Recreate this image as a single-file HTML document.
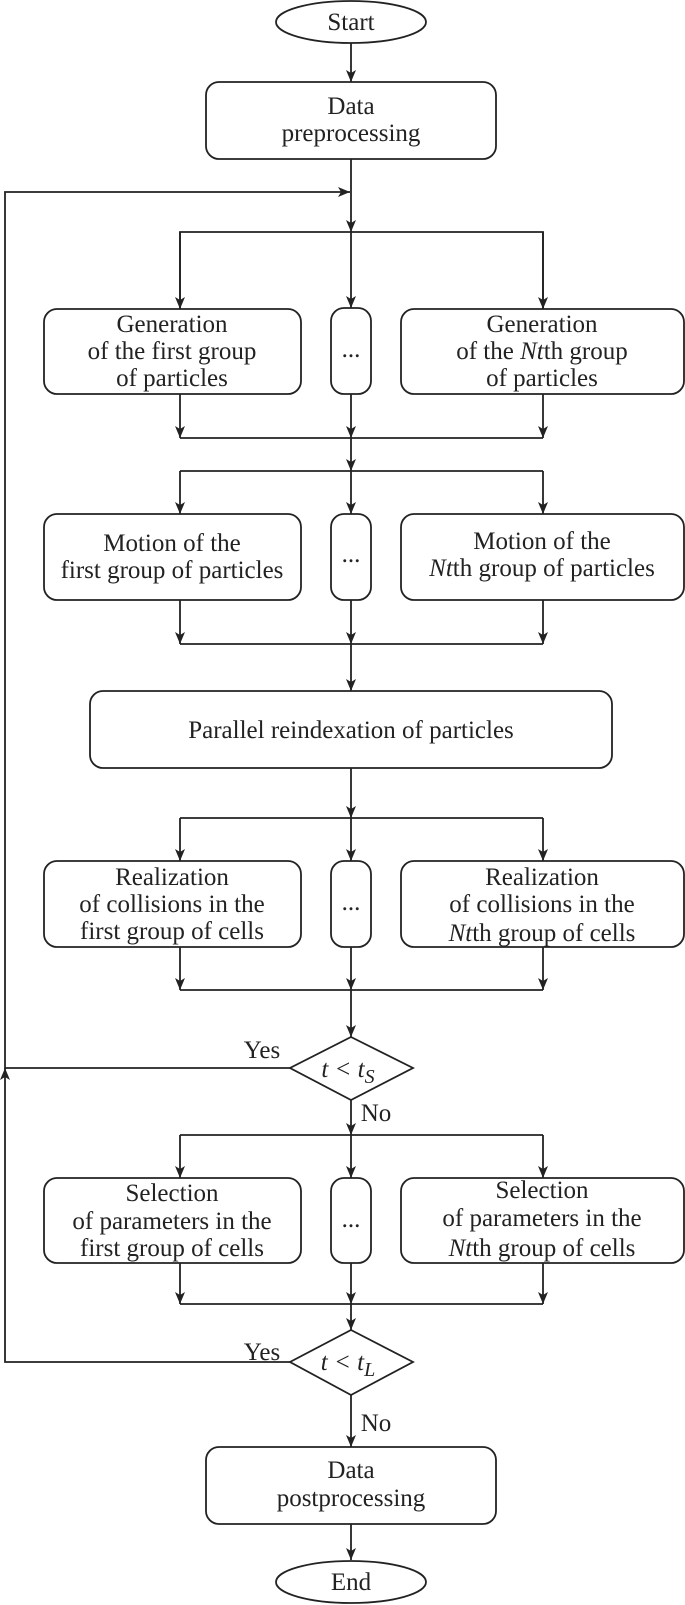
<!DOCTYPE html>
<html><head><meta charset="utf-8"><style>
html,body{margin:0;padding:0;background:#fff}
svg{display:block}
text{font-family:"Liberation Serif",serif;font-size:25px;fill:#222;text-anchor:middle}
.i{font-style:italic}
</style></head><body>
<svg width="685" height="1605" viewBox="0 0 685 1605" xmlns="http://www.w3.org/2000/svg">
<defs>
<marker id="a" viewBox="0 0 12 10" refX="12" refY="5" markerWidth="12" markerHeight="10" markerUnits="userSpaceOnUse" orient="auto">
<path d="M0,0 L12,5 L0,10 L3,5 z" fill="#222"/>
</marker>
</defs>
<g stroke="#222" stroke-width="1.8" fill="none">
<!-- start -->
<ellipse cx="351" cy="22" rx="75" ry="21"/>
<line x1="351" y1="43" x2="351" y2="82" marker-end="url(#a)"/>
<rect x="206" y="82" width="290" height="77" rx="13"/>
<line x1="351" y1="159" x2="351" y2="232" marker-end="url(#a)"/>
<!-- loop -->
<polyline points="290,1068 5,1068 5,192 350,192" marker-end="url(#a)"/>
<line x1="5" y1="1100" x2="5" y2="1068" marker-end="url(#a)"/>
<polyline points="290,1362 5,1362 5,1100"/>

<!-- group 1 -->
<polyline points="180,309 180,232 543,232 543,309"/>
<line x1="180" y1="232" x2="180" y2="309" marker-end="url(#a)"/>
<line x1="351" y1="232" x2="351" y2="308" marker-end="url(#a)"/>
<line x1="543" y1="232" x2="543" y2="309" marker-end="url(#a)"/>
<rect x="44" y="309" width="257" height="85" rx="13"/>
<rect x="331" y="308" width="40" height="86" rx="13"/>
<rect x="401" y="309" width="283" height="85" rx="13"/>
<line x1="180" y1="394" x2="180" y2="438" marker-end="url(#a)"/>
<line x1="351" y1="394" x2="351" y2="438" marker-end="url(#a)"/>
<line x1="543" y1="394" x2="543" y2="438" marker-end="url(#a)"/>
<line x1="180" y1="438" x2="543" y2="438"/>
<line x1="351" y1="438" x2="351" y2="471" marker-end="url(#a)"/>

<!-- group 2 -->
<line x1="180" y1="471" x2="543" y2="471"/>
<line x1="180" y1="471" x2="180" y2="514" marker-end="url(#a)"/>
<line x1="351" y1="471" x2="351" y2="514" marker-end="url(#a)"/>
<line x1="543" y1="471" x2="543" y2="514" marker-end="url(#a)"/>
<rect x="44" y="514" width="257" height="86" rx="13"/>
<rect x="331" y="514" width="40" height="86" rx="13"/>
<rect x="401" y="514" width="283" height="86" rx="13"/>
<line x1="180" y1="600" x2="180" y2="644" marker-end="url(#a)"/>
<line x1="351" y1="600" x2="351" y2="644" marker-end="url(#a)"/>
<line x1="543" y1="600" x2="543" y2="644" marker-end="url(#a)"/>
<line x1="180" y1="644" x2="543" y2="644"/>
<line x1="351" y1="644" x2="351" y2="691" marker-end="url(#a)"/>
<rect x="90" y="691" width="522" height="77" rx="13"/>
<line x1="351" y1="768" x2="351" y2="818" marker-end="url(#a)"/>

<!-- group 3 -->
<line x1="180" y1="818" x2="543" y2="818"/>
<line x1="180" y1="818" x2="180" y2="861" marker-end="url(#a)"/>
<line x1="351" y1="818" x2="351" y2="861" marker-end="url(#a)"/>
<line x1="543" y1="818" x2="543" y2="861" marker-end="url(#a)"/>
<rect x="44" y="861" width="257" height="86" rx="13"/>
<rect x="331" y="861" width="40" height="86" rx="13"/>
<rect x="401" y="861" width="283" height="86" rx="13"/>
<line x1="180" y1="947" x2="180" y2="990" marker-end="url(#a)"/>
<line x1="351" y1="947" x2="351" y2="990" marker-end="url(#a)"/>
<line x1="543" y1="947" x2="543" y2="990" marker-end="url(#a)"/>
<line x1="180" y1="990" x2="543" y2="990"/>
<line x1="351" y1="990" x2="351" y2="1037" marker-end="url(#a)"/>
<polygon points="351,1037 413,1068 351,1100 290,1068"/>
<line x1="351" y1="1100" x2="351" y2="1135" marker-end="url(#a)"/>

<!-- group 4 -->
<line x1="180" y1="1135" x2="543" y2="1135"/>
<line x1="180" y1="1135" x2="180" y2="1178" marker-end="url(#a)"/>
<line x1="351" y1="1135" x2="351" y2="1178" marker-end="url(#a)"/>
<line x1="543" y1="1135" x2="543" y2="1178" marker-end="url(#a)"/>
<rect x="44" y="1178" width="257" height="85" rx="13"/>
<rect x="331" y="1178" width="40" height="85" rx="13"/>
<rect x="401" y="1178" width="283" height="85" rx="13"/>
<line x1="180" y1="1263" x2="180" y2="1304" marker-end="url(#a)"/>
<line x1="351" y1="1263" x2="351" y2="1304" marker-end="url(#a)"/>
<line x1="543" y1="1263" x2="543" y2="1304" marker-end="url(#a)"/>
<line x1="180" y1="1304" x2="543" y2="1304"/>
<line x1="351" y1="1304" x2="351" y2="1330" marker-end="url(#a)"/>
<polygon points="351,1330 413,1362 351,1395 290,1362"/>
<line x1="351" y1="1395" x2="351" y2="1447" marker-end="url(#a)"/>
<rect x="206" y="1447" width="290" height="77" rx="13"/>
<line x1="351" y1="1524" x2="351" y2="1560" marker-end="url(#a)"/>
<ellipse cx="351" cy="1582" rx="75" ry="21"/>
</g>

<text x="351" y="30">Start</text>
<text x="351" y="114">Data</text>
<text x="351" y="141">preprocessing</text>

<text x="172" y="332">Generation</text>
<text x="172" y="359">of the first group</text>
<text x="172" y="386">of particles</text>
<text x="351" y="357">...</text>
<text x="542" y="332">Generation</text>
<text x="542" y="359">of the <tspan class="i">Nt</tspan>th group</text>
<text x="542" y="386">of particles</text>

<text x="172" y="551">Motion of the</text>
<text x="172" y="578">first group of particles</text>
<text x="351" y="562">...</text>
<text x="542" y="549">Motion of the</text>
<text x="542" y="576"><tspan class="i">Nt</tspan>th group of particles</text>

<text x="351" y="738">Parallel reindexation of particles</text>

<text x="172" y="885">Realization</text>
<text x="172" y="912">of collisions in the</text>
<text x="172" y="939">first group of cells</text>
<text x="351" y="910">...</text>
<text x="542" y="885">Realization</text>
<text x="542" y="912">of collisions in the</text>
<text x="542" y="941"><tspan class="i">Nt</tspan>th group of cells</text>

<text x="262" y="1058">Yes</text>
<text class="i" x="348" y="1077">t &lt; t<tspan font-size="20" dy="6">S</tspan></text>
<text x="376" y="1121">No</text>

<text x="172" y="1201">Selection</text>
<text x="172" y="1229">of parameters in the</text>
<text x="172" y="1256">first group of cells</text>
<text x="351" y="1227">...</text>
<text x="542" y="1198">Selection</text>
<text x="542" y="1226">of parameters in the</text>
<text x="542" y="1256"><tspan class="i">Nt</tspan>th group of cells</text>

<text x="262" y="1366" dy="-6">Yes</text>
<text class="i" x="348" y="1370">t &lt; t<tspan font-size="20" dy="6">L</tspan></text>
<text x="376" y="1431">No</text>

<text x="351" y="1478">Data</text>
<text x="351" y="1506">postprocessing</text>
<text x="351" y="1590">End</text>
</svg>
</body></html>
